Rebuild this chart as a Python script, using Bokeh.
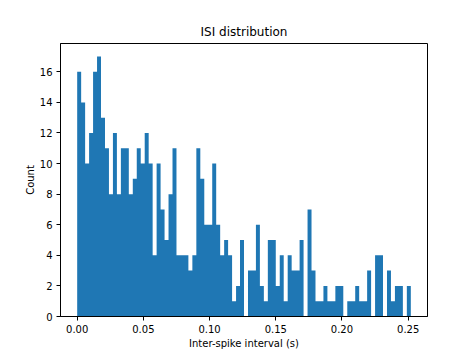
import numpy as np
from bokeh.plotting import figure
from bokeh.models import Range1d, FixedTicker
from bokeh.embed import file_html
from bokeh.resources import INLINE

# Histogram: 84 bins of 0.003 s from 0 to 0.252 s
bin_start = 0.0
bin_width = 0.003
counts = [16, 14, 10, 12, 16, 17, 13, 11, 8, 12,
          8, 11, 11, 8, 9, 11, 10, 12, 10, 4,
          10, 7, 5, 8, 11, 4, 4, 4, 3, 4,
          11, 9, 6, 6, 10, 6, 4, 5, 4, 1,
          2, 5, 0, 3, 3, 6, 2, 1, 5, 5,
          2, 4, 1, 4, 3, 3, 5, 0, 7, 3,
          1, 1, 2, 1, 1, 2, 2, 0, 1, 1,
          2, 1, 1, 3, 0, 4, 4, 0, 3, 1,
          2, 2, 0, 2]
x_ticks = [0.0, 0.05, 0.10, 0.15, 0.20, 0.25]
x_tick_labels = ["0.00", "0.05", "0.10", "0.15", "0.20", "0.25"]
y_ticks = [0, 2, 4, 6, 8, 10, 12, 14, 16]

n = len(counts)
edges = bin_start + bin_width * np.arange(n + 1)

# step outline of the histogram (seamless fill)
xs = [edges[0]]
ys = [0]
for i, c in enumerate(counts):
    xs += [edges[i], edges[i + 1]]
    ys += [c, c]
xs.append(edges[-1])
ys.append(0)

xmin, xmax = edges[0], edges[-1]
xpad = 0.05 * (xmax - xmin)
ymax = max(counts) * 1.05

FONT = "DejaVu Sans"
BLUE = "#1f77b4"

p = figure(width=474, height=355, output_backend="svg", toolbar_location=None,
           x_range=Range1d(xmin - xpad, xmax + xpad), y_range=Range1d(0, ymax),
           min_border_left=60, min_border_right=47, min_border_top=43, min_border_bottom=39,
           title="ISI distribution")

p.patch(xs, ys, fill_color=BLUE, line_color=None)

p.title.align = "center"
p.title.text_font = FONT
p.title.text_font_size = "12px"
p.title.text_font_style = "normal"
p.title.text_color = "black"

p.xgrid.visible = False
p.ygrid.visible = False
p.outline_line_color = "black"
p.outline_line_width = 1
p.outline_line_alpha = 1

p.xaxis.ticker = FixedTicker(ticks=x_ticks)
p.xaxis.major_label_overrides = {t: l for t, l in zip(x_ticks, x_tick_labels)}
p.yaxis.ticker = FixedTicker(ticks=y_ticks)

for ax in (p.xaxis, p.yaxis):
    ax.axis_line_color = "black"
    ax.major_tick_line_color = "black"
    ax.major_tick_in = 0
    ax.major_tick_out = 4
    ax.minor_tick_line_color = None
    ax.major_label_text_font = FONT
    ax.major_label_text_font_size = "10px"
    ax.major_label_text_color = "black"
    ax.axis_label_text_font = FONT
    ax.axis_label_text_font_size = "10px"
    ax.axis_label_text_font_style = "normal"
    ax.axis_label_text_color = "black"
    ax.major_label_standoff = 4

p.xaxis.axis_label = "Inter-spike interval (s)"
p.yaxis.axis_label = "Count"
p.xaxis.axis_label_standoff = 2
p.yaxis.axis_label_standoff = 1

open("out.html", "w").write(file_html(p, INLINE))
